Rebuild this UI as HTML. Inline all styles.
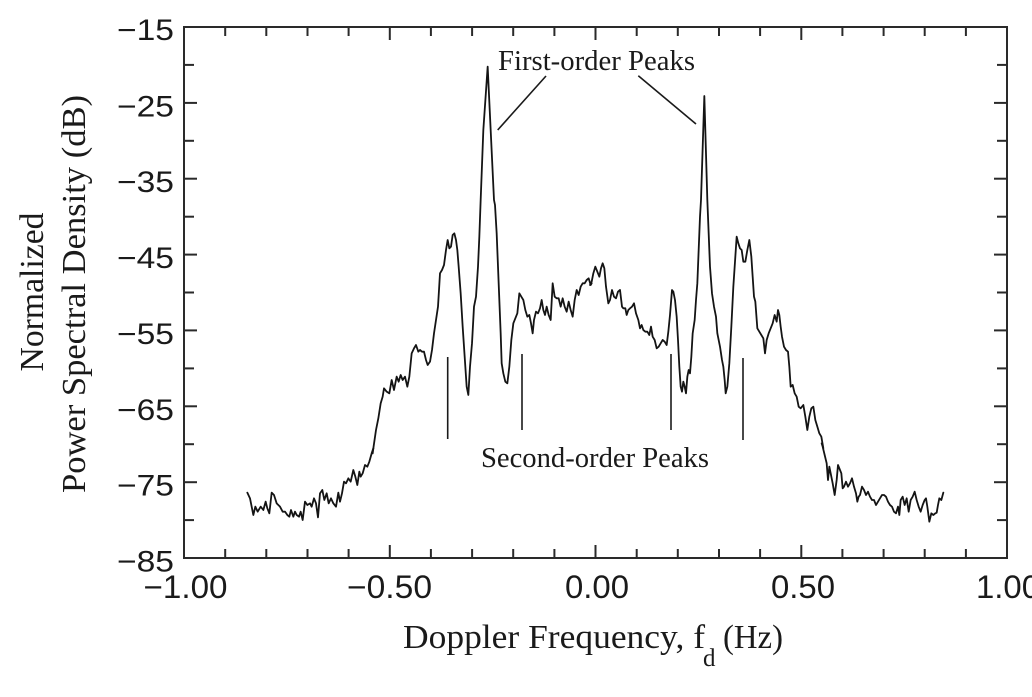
<!DOCTYPE html>
<html>
<head>
<meta charset="utf-8">
<style>
  html, body { margin: 0; padding: 0; background: #ffffff; }
  body { width: 1032px; height: 697px; overflow: hidden; }
  svg { display: block; }
  .num { font-family: "Liberation Sans", "DejaVu Sans", sans-serif; fill: #1a1a1a; }
  .ser { font-family: "Liberation Serif", "DejaVu Serif", serif; fill: #1a1a1a; }
  .tk { stroke: #2a2a2a; stroke-width: 2; }
  .ln { fill: none; stroke: #141414; stroke-width: 1.8; stroke-linejoin: round; stroke-linecap: round; }
  .ann { stroke: #1a1a1a; stroke-width: 1.6; }
</style>
</head>
<body>
<svg width="1032" height="697" viewBox="0 0 1032 697" xmlns="http://www.w3.org/2000/svg">
  <rect x="0" y="0" width="1032" height="697" fill="#ffffff"/>
  <rect x="184" y="27" width="823" height="531" fill="none" stroke="#2a2a2a" stroke-width="2"/>

  <g class="tk">
    <line x1="225.2" y1="558" x2="225.2" y2="549"/>
    <line x1="266.3" y1="558" x2="266.3" y2="549"/>
    <line x1="307.5" y1="558" x2="307.5" y2="549"/>
    <line x1="348.6" y1="558" x2="348.6" y2="549"/>
    <line x1="389.8" y1="558" x2="389.8" y2="545"/>
    <line x1="430.9" y1="558" x2="430.9" y2="549"/>
    <line x1="472.1" y1="558" x2="472.1" y2="549"/>
    <line x1="513.2" y1="558" x2="513.2" y2="549"/>
    <line x1="554.4" y1="558" x2="554.4" y2="549"/>
    <line x1="595.5" y1="558" x2="595.5" y2="545"/>
    <line x1="636.7" y1="558" x2="636.7" y2="549"/>
    <line x1="677.8" y1="558" x2="677.8" y2="549"/>
    <line x1="719.0" y1="558" x2="719.0" y2="549"/>
    <line x1="760.1" y1="558" x2="760.1" y2="549"/>
    <line x1="801.3" y1="558" x2="801.3" y2="545"/>
    <line x1="842.4" y1="558" x2="842.4" y2="549"/>
    <line x1="883.6" y1="558" x2="883.6" y2="549"/>
    <line x1="924.7" y1="558" x2="924.7" y2="549"/>
    <line x1="965.9" y1="558" x2="965.9" y2="549"/>
    <line x1="225.2" y1="27" x2="225.2" y2="36"/>
    <line x1="266.3" y1="27" x2="266.3" y2="36"/>
    <line x1="307.5" y1="27" x2="307.5" y2="36"/>
    <line x1="348.6" y1="27" x2="348.6" y2="36"/>
    <line x1="389.8" y1="27" x2="389.8" y2="40"/>
    <line x1="430.9" y1="27" x2="430.9" y2="36"/>
    <line x1="472.1" y1="27" x2="472.1" y2="36"/>
    <line x1="513.2" y1="27" x2="513.2" y2="36"/>
    <line x1="554.4" y1="27" x2="554.4" y2="36"/>
    <line x1="595.5" y1="27" x2="595.5" y2="40"/>
    <line x1="636.7" y1="27" x2="636.7" y2="36"/>
    <line x1="677.8" y1="27" x2="677.8" y2="36"/>
    <line x1="719.0" y1="27" x2="719.0" y2="36"/>
    <line x1="760.1" y1="27" x2="760.1" y2="36"/>
    <line x1="801.3" y1="27" x2="801.3" y2="40"/>
    <line x1="842.4" y1="27" x2="842.4" y2="36"/>
    <line x1="883.6" y1="27" x2="883.6" y2="36"/>
    <line x1="924.7" y1="27" x2="924.7" y2="36"/>
    <line x1="965.9" y1="27" x2="965.9" y2="36"/>
    <line x1="184" y1="64.9" x2="194" y2="64.9"/>
    <line x1="184" y1="102.9" x2="197" y2="102.9"/>
    <line x1="184" y1="140.8" x2="194" y2="140.8"/>
    <line x1="184" y1="178.7" x2="197" y2="178.7"/>
    <line x1="184" y1="216.7" x2="194" y2="216.7"/>
    <line x1="184" y1="254.6" x2="197" y2="254.6"/>
    <line x1="184" y1="292.5" x2="194" y2="292.5"/>
    <line x1="184" y1="330.4" x2="197" y2="330.4"/>
    <line x1="184" y1="368.4" x2="194" y2="368.4"/>
    <line x1="184" y1="406.3" x2="197" y2="406.3"/>
    <line x1="184" y1="444.2" x2="194" y2="444.2"/>
    <line x1="184" y1="482.2" x2="197" y2="482.2"/>
    <line x1="184" y1="520.1" x2="194" y2="520.1"/>
    <line x1="1007" y1="64.9" x2="997" y2="64.9"/>
    <line x1="1007" y1="102.9" x2="994" y2="102.9"/>
    <line x1="1007" y1="140.8" x2="997" y2="140.8"/>
    <line x1="1007" y1="178.7" x2="994" y2="178.7"/>
    <line x1="1007" y1="216.7" x2="997" y2="216.7"/>
    <line x1="1007" y1="254.6" x2="994" y2="254.6"/>
    <line x1="1007" y1="292.5" x2="997" y2="292.5"/>
    <line x1="1007" y1="330.4" x2="994" y2="330.4"/>
    <line x1="1007" y1="368.4" x2="997" y2="368.4"/>
    <line x1="1007" y1="406.3" x2="994" y2="406.3"/>
    <line x1="1007" y1="444.2" x2="997" y2="444.2"/>
    <line x1="1007" y1="482.2" x2="994" y2="482.2"/>
    <line x1="1007" y1="520.1" x2="997" y2="520.1"/>
  </g>

  <g class="num" font-size="30" text-anchor="end">
    <text x="174" y="40" textLength="57" lengthAdjust="spacingAndGlyphs">−15</text>
    <text x="174" y="116.4" textLength="57" lengthAdjust="spacingAndGlyphs">−25</text>
    <text x="174" y="192.2" textLength="57" lengthAdjust="spacingAndGlyphs">−35</text>
    <text x="174" y="268.1" textLength="57" lengthAdjust="spacingAndGlyphs">−45</text>
    <text x="174" y="343.9" textLength="57" lengthAdjust="spacingAndGlyphs">−55</text>
    <text x="174" y="419.8" textLength="57" lengthAdjust="spacingAndGlyphs">−65</text>
    <text x="174" y="495.7" textLength="57" lengthAdjust="spacingAndGlyphs">−75</text>
    <text x="174" y="571.6" textLength="57" lengthAdjust="spacingAndGlyphs">−85</text>
  </g>

  <g class="num" font-size="32" text-anchor="middle">
    <text x="185.5" y="598" textLength="84" lengthAdjust="spacingAndGlyphs">−1.00</text>
    <text x="389.5" y="598" textLength="85" lengthAdjust="spacingAndGlyphs">−0.50</text>
    <text x="597" y="598" textLength="64" lengthAdjust="spacingAndGlyphs">0.00</text>
    <text x="803" y="598" textLength="64" lengthAdjust="spacingAndGlyphs">0.50</text>
    <text x="1008" y="598" textLength="64" lengthAdjust="spacingAndGlyphs">1.00</text>
  </g>

  <text class="ser" font-size="34" text-anchor="middle" transform="translate(43,292) rotate(-90)" textLength="159" lengthAdjust="spacingAndGlyphs">Normalized</text>
  <text class="ser" font-size="34" text-anchor="middle" transform="translate(85,294) rotate(-90)" textLength="398" lengthAdjust="spacingAndGlyphs">Power Spectral Density (dB)</text>

  <text class="ser" font-size="34" x="403" y="648" textLength="302" lengthAdjust="spacingAndGlyphs">Doppler Frequency, f</text>
  <text class="ser" font-size="25" x="703" y="666">d</text>
  <text class="ser" font-size="34" x="723" y="648" textLength="60" lengthAdjust="spacingAndGlyphs">(Hz)</text>

  <text class="ser" font-size="28.7" x="498" y="70" textLength="197" lengthAdjust="spacingAndGlyphs">First-order Peaks</text>
  <text class="ser" font-size="28.7" x="481" y="467" textLength="228" lengthAdjust="spacingAndGlyphs">Second-order Peaks</text>

  <g class="ann">
    <line x1="546" y1="76" x2="497.7" y2="130"/>
    <line x1="638.3" y1="75.7" x2="696" y2="124"/>
    <line x1="447.7" y1="357" x2="447.7" y2="439"/>
    <line x1="522" y1="354" x2="522" y2="430"/>
    <line x1="671" y1="354" x2="671" y2="430"/>
    <line x1="743" y1="358" x2="743" y2="440"/>
  </g>

  <g transform="translate(230,330) scale(0.333333)">
    <polyline class="ln" vector-effect="non-scaling-stroke" points="52,488 60,505 70,555 76,530 83,545 92,530 100,540 107,515 112,535 118,550 125,488 132,495 140,520 150,530 158,545 165,545 172,555 178,560 183,540 190,560 195,545 200,555 207,560 212,545 218,570 225,515 232,525 240,520 245,530 252,505 258,520 264,562 270,490 277,480 283,510 290,490 296,520 303,505 310,520 318,530 325,488 330,515 336,490 342,455 348,460 355,445 362,455 370,420 376,440 382,465 388,425 392,440 398,430 405,405 412,410 418,395 425,370 430,355"/>
  </g>
  <g transform="translate(350,200) scale(0.333333)">
    <polyline class="ln" vector-effect="non-scaling-stroke" points="68,760 70,745 78,690 85,655 92,610 98,590 102,565 110,575 118,580 125,540 132,570 140,530 146,545 152,525 158,540 165,530 172,560 178,530 185,460 192,445 198,435 205,455 210,450 216,455 222,455 228,480 233,495 240,485 246,450 252,400 258,360 264,320 270,220 276,210 282,195 288,150 293,120 298,145 303,140 308,105 313,100 318,120 322,150 326,200 332,280 338,380 344,470 350,560 355,585 360,500 366,430 372,320 378,290 384,200 388,110 392,0 400,-210 413,-400 422,-210 432,0 435,15 440,100 446,250 452,400 455,490 460,520 466,545 472,550 478,500 484,420 490,370 496,355 502,340 508,280 514,290 520,300 526,330 532,350 538,345 543,370 548,400 552,360 558,335 564,340 570,325 575,300 580,330 585,345 590,320 596,345 602,360 608,250 614,290 620,295 626,295 632,320 638,295 644,320 650,335 656,305 662,330 668,350 674,300 680,270 686,285 692,260 698,250 704,250 710,240 716,235 722,255 725,250"/>
  </g>
  <g transform="translate(590,200) scale(0.333333)">
    <polyline class="ln" vector-effect="non-scaling-stroke" points="0,255 5,245 10,220 16,200 22,215 28,230 33,205 38,190 43,205 48,260 55,310 60,300 66,270 72,290 78,295 84,275 90,270 96,320 100,325 106,325 110,345 115,330 120,325 126,320 132,310 138,340 145,360 150,385 155,375 160,390 166,395 172,395 178,405 183,380 188,410 194,420 200,445 206,440 212,430 218,420 224,425 230,435 235,395 240,345 246,270 250,275 255,300 260,350 264,420 268,500 272,560 276,575 280,545 284,560 288,580 292,530 296,510 300,520 304,470 308,400 314,360 318,300 322,250 326,150 330,50 333,0 343,-312 352,0 356,100 360,200 366,280 372,320 378,350 382,400 390,440 396,480 400,500 404,540 407,580 412,560 418,490 424,380 430,260 436,170 440,110 445,130 450,145 455,150 460,185 466,185 472,150 478,120 484,170 488,230 492,290 496,305 502,385 508,395 514,405 520,415 525,460 530,420 536,400 542,385 548,370 554,345 560,365 564,330 568,345 572,380 576,410 582,440 588,450 594,455 598,500 602,560 608,555 614,580 620,590 626,620 632,625 640,615 646,650 652,690 658,650 664,625 670,620 676,660 682,680 688,700 694,710 700,745"/>
  </g>
  <g transform="translate(780,330) scale(0.333333)">
    <polyline class="ln" vector-effect="non-scaling-stroke" points="125,340 128,350 134,375 140,400 144,450 148,410 152,430 158,460 164,495 170,450 174,405 180,420 184,430 188,475 192,470 198,455 204,470 210,460 216,445 222,470 228,490 232,515 236,500 240,495 246,470 252,480 258,495 264,485 270,500 276,510 282,510 288,525 294,515 300,505 306,495 312,495 318,500 324,515 330,525 336,530 342,545 348,550 354,530 358,555 362,510 368,500 374,525 380,505 386,545 392,510 398,500 404,485 410,510 416,530 422,545 428,525 434,510 438,505 442,530 448,575 454,550 460,555 466,550 470,548 474,525 478,505 484,510 490,488"/>
  </g>
</svg>
</body>
</html>
